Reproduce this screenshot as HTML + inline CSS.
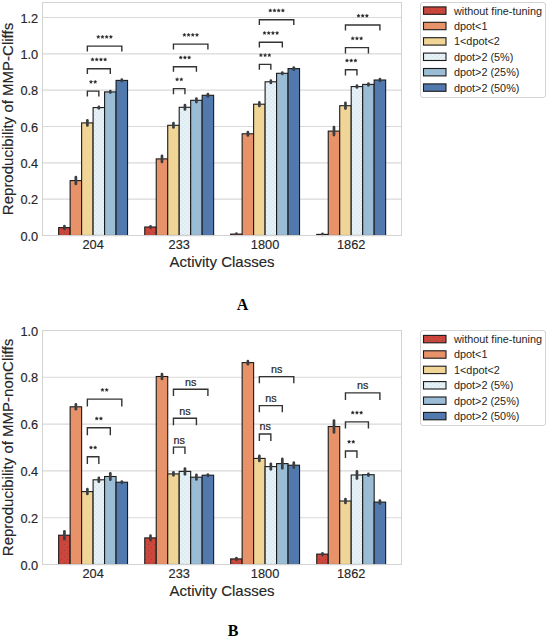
<!DOCTYPE html>
<html><head><meta charset="utf-8"><style>
html,body{margin:0;padding:0;background:#fff;}
svg{display:block;}
text{font-family:"Liberation Sans",sans-serif;fill:#262626;}
.tk{font-size:12.8px;stroke:#262626;stroke-width:0.15px;}
.lb{font-size:15px;stroke:#262626;stroke-width:0.15px;}
.lg{font-size:10.85px;}
.ns{font-size:10.8px;stroke:#262626;stroke-width:0.2px;}
.pn{font-family:"Liberation Serif",serif;font-weight:bold;font-size:16px;fill:#000;}
</style></head><body>
<svg width="548" height="638" viewBox="0 0 548 638">
<defs><pattern id="h0" patternUnits="userSpaceOnUse" width="6" height="6"><rect width="6" height="6" fill="#cd463b"/><circle cx="1.5" cy="1.5" r="0.5" fill="#7a4a40"/><circle cx="4.5" cy="4.5" r="0.5" fill="#7a4a40"/></pattern><pattern id="h3" patternUnits="userSpaceOnUse" width="4" height="4"><rect width="4" height="4" fill="#e6f2f7"/><circle cx="1" cy="1" r="0.55" fill="#c3d4da"/><circle cx="3" cy="3" r="0.55" fill="#c3d4da"/></pattern></defs>
<rect width="548" height="638" fill="#fff"/>
<rect x="42.5" y="2.5" width="359" height="233.0" fill="#fff" stroke="none"/>
<line x1="42" y1="235.50" x2="402" y2="235.50" stroke="#d9d9d9" stroke-width="1.1"/>
<text x="38.2" y="240.50" text-anchor="end" class="tk">0.0</text>
<line x1="42" y1="199.17" x2="402" y2="199.17" stroke="#d9d9d9" stroke-width="1.1"/>
<text x="38.2" y="204.17" text-anchor="end" class="tk">0.2</text>
<line x1="42" y1="162.83" x2="402" y2="162.83" stroke="#d9d9d9" stroke-width="1.1"/>
<text x="38.2" y="167.83" text-anchor="end" class="tk">0.4</text>
<line x1="42" y1="126.50" x2="402" y2="126.50" stroke="#d9d9d9" stroke-width="1.1"/>
<text x="38.2" y="131.50" text-anchor="end" class="tk">0.6</text>
<line x1="42" y1="90.16" x2="402" y2="90.16" stroke="#d9d9d9" stroke-width="1.1"/>
<text x="38.2" y="95.16" text-anchor="end" class="tk">0.8</text>
<line x1="42" y1="53.83" x2="402" y2="53.83" stroke="#d9d9d9" stroke-width="1.1"/>
<text x="38.2" y="58.83" text-anchor="end" class="tk">1.0</text>
<line x1="42" y1="17.50" x2="402" y2="17.50" stroke="#d9d9d9" stroke-width="1.1"/>
<text x="38.2" y="22.50" text-anchor="end" class="tk">1.2</text>
<rect x="58.66" y="227.60" width="11.48" height="7.90" fill="url(#h0)" stroke="#1a1a1a" stroke-width="1.1"/>
<rect x="70.14" y="180.60" width="11.48" height="54.90" fill="#e8926a" stroke="#1a1a1a" stroke-width="1.1"/>
<rect x="81.62" y="122.90" width="11.48" height="112.60" fill="#f0d596" stroke="#1a1a1a" stroke-width="1.1"/>
<rect x="93.10" y="107.60" width="11.48" height="127.90" fill="url(#h3)" stroke="#1a1a1a" stroke-width="1.1"/>
<rect x="104.58" y="91.90" width="11.48" height="143.60" fill="#9abdd5" stroke="#1a1a1a" stroke-width="1.1"/>
<rect x="116.06" y="80.40" width="11.48" height="155.10" fill="#5279ad" stroke="#1a1a1a" stroke-width="1.1"/>
<line x1="64.40" y1="226.15" x2="64.40" y2="229.05" stroke="#3a3d42" stroke-width="2.7" stroke-linecap="round"/>
<line x1="75.88" y1="177.20" x2="75.88" y2="184.00" stroke="#3a3d42" stroke-width="2.7" stroke-linecap="round"/>
<line x1="87.36" y1="120.30" x2="87.36" y2="125.50" stroke="#3a3d42" stroke-width="2.7" stroke-linecap="round"/>
<line x1="98.84" y1="106.90" x2="98.84" y2="108.30" stroke="#3a3d42" stroke-width="2.7" stroke-linecap="round"/>
<line x1="110.32" y1="91.20" x2="110.32" y2="92.60" stroke="#3a3d42" stroke-width="2.7" stroke-linecap="round"/>
<line x1="121.80" y1="79.70" x2="121.80" y2="81.10" stroke="#3a3d42" stroke-width="2.7" stroke-linecap="round"/>
<path d="M87.36 96.4 V91.1 H98.84 V96.4" fill="none" stroke="#333" stroke-width="1.4"/>
<polygon points="91.00,80.05 91.53,81.17 92.76,81.33 91.86,82.18 92.09,83.40 91.00,82.80 89.91,83.40 90.14,82.18 89.24,81.33 90.47,81.17" fill="#262626" stroke="#262626" stroke-width="0.3"/>
<polygon points="95.20,80.05 95.73,81.17 96.96,81.33 96.06,82.18 96.29,83.40 95.20,82.80 94.11,83.40 94.34,82.18 93.44,81.33 94.67,81.17" fill="#262626" stroke="#262626" stroke-width="0.3"/>
<path d="M87.36 74.0 V68.7 H110.32 V74.0" fill="none" stroke="#333" stroke-width="1.4"/>
<polygon points="92.54,57.65 93.07,58.77 94.30,58.93 93.40,59.78 93.63,61.00 92.54,60.40 91.45,61.00 91.68,59.78 90.78,58.93 92.01,58.77" fill="#262626" stroke="#262626" stroke-width="0.3"/>
<polygon points="96.74,57.65 97.27,58.77 98.50,58.93 97.60,59.78 97.83,61.00 96.74,60.40 95.65,61.00 95.88,59.78 94.98,58.93 96.21,58.77" fill="#262626" stroke="#262626" stroke-width="0.3"/>
<polygon points="100.94,57.65 101.47,58.77 102.70,58.93 101.80,59.78 102.03,61.00 100.94,60.40 99.85,61.00 100.08,59.78 99.18,58.93 100.41,58.77" fill="#262626" stroke="#262626" stroke-width="0.3"/>
<polygon points="105.14,57.65 105.67,58.77 106.90,58.93 106.00,59.78 106.23,61.00 105.14,60.40 104.05,61.00 104.28,59.78 103.38,58.93 104.61,58.77" fill="#262626" stroke="#262626" stroke-width="0.3"/>
<path d="M87.36 51.4 V46.1 H121.80 V51.4" fill="none" stroke="#333" stroke-width="1.4"/>
<polygon points="98.28,35.05 98.81,36.17 100.04,36.33 99.14,37.18 99.37,38.40 98.28,37.80 97.19,38.40 97.42,37.18 96.52,36.33 97.75,36.17" fill="#262626" stroke="#262626" stroke-width="0.3"/>
<polygon points="102.48,35.05 103.01,36.17 104.24,36.33 103.34,37.18 103.57,38.40 102.48,37.80 101.39,38.40 101.62,37.18 100.72,36.33 101.95,36.17" fill="#262626" stroke="#262626" stroke-width="0.3"/>
<polygon points="106.68,35.05 107.21,36.17 108.44,36.33 107.54,37.18 107.77,38.40 106.68,37.80 105.59,38.40 105.82,37.18 104.92,36.33 106.15,36.17" fill="#262626" stroke="#262626" stroke-width="0.3"/>
<polygon points="110.88,35.05 111.41,36.17 112.64,36.33 111.74,37.18 111.97,38.40 110.88,37.80 109.79,38.40 110.02,37.18 109.12,36.33 110.35,36.17" fill="#262626" stroke="#262626" stroke-width="0.3"/>
<text x="93.10" y="248.70" text-anchor="middle" class="tk">204</text>
<rect x="144.76" y="227.00" width="11.48" height="8.50" fill="url(#h0)" stroke="#1a1a1a" stroke-width="1.1"/>
<rect x="156.24" y="158.90" width="11.48" height="76.60" fill="#e8926a" stroke="#1a1a1a" stroke-width="1.1"/>
<rect x="167.72" y="125.30" width="11.48" height="110.20" fill="#f0d596" stroke="#1a1a1a" stroke-width="1.1"/>
<rect x="179.20" y="107.30" width="11.48" height="128.20" fill="url(#h3)" stroke="#1a1a1a" stroke-width="1.1"/>
<rect x="190.68" y="100.30" width="11.48" height="135.20" fill="#9abdd5" stroke="#1a1a1a" stroke-width="1.1"/>
<rect x="202.16" y="95.30" width="11.48" height="140.20" fill="#5279ad" stroke="#1a1a1a" stroke-width="1.1"/>
<line x1="150.50" y1="226.30" x2="150.50" y2="227.70" stroke="#3a3d42" stroke-width="2.7" stroke-linecap="round"/>
<line x1="161.98" y1="155.85" x2="161.98" y2="161.95" stroke="#3a3d42" stroke-width="2.7" stroke-linecap="round"/>
<line x1="173.46" y1="123.10" x2="173.46" y2="127.50" stroke="#3a3d42" stroke-width="2.7" stroke-linecap="round"/>
<line x1="184.94" y1="105.10" x2="184.94" y2="109.50" stroke="#3a3d42" stroke-width="2.7" stroke-linecap="round"/>
<line x1="196.42" y1="98.50" x2="196.42" y2="102.10" stroke="#3a3d42" stroke-width="2.7" stroke-linecap="round"/>
<line x1="207.90" y1="94.10" x2="207.90" y2="96.50" stroke="#3a3d42" stroke-width="2.7" stroke-linecap="round"/>
<path d="M173.46 94.2 V88.6 H184.94 V94.2" fill="none" stroke="#333" stroke-width="1.4"/>
<polygon points="177.10,77.55 177.63,78.67 178.86,78.83 177.96,79.68 178.19,80.90 177.10,80.30 176.01,80.90 176.24,79.68 175.34,78.83 176.57,78.67" fill="#262626" stroke="#262626" stroke-width="0.3"/>
<polygon points="181.30,77.55 181.83,78.67 183.06,78.83 182.16,79.68 182.39,80.90 181.30,80.30 180.21,80.90 180.44,79.68 179.54,78.83 180.77,78.67" fill="#262626" stroke="#262626" stroke-width="0.3"/>
<path d="M173.46 71.7 V66.8 H196.42 V71.7" fill="none" stroke="#333" stroke-width="1.4"/>
<polygon points="180.74,55.75 181.27,56.87 182.50,57.03 181.60,57.88 181.83,59.10 180.74,58.50 179.65,59.10 179.88,57.88 178.98,57.03 180.21,56.87" fill="#262626" stroke="#262626" stroke-width="0.3"/>
<polygon points="184.94,55.75 185.47,56.87 186.70,57.03 185.80,57.88 186.03,59.10 184.94,58.50 183.85,59.10 184.08,57.88 183.18,57.03 184.41,56.87" fill="#262626" stroke="#262626" stroke-width="0.3"/>
<polygon points="189.14,55.75 189.67,56.87 190.90,57.03 190.00,57.88 190.23,59.10 189.14,58.50 188.05,59.10 188.28,57.88 187.38,57.03 188.61,56.87" fill="#262626" stroke="#262626" stroke-width="0.3"/>
<path d="M173.46 49.6 V44.1 H207.90 V49.6" fill="none" stroke="#333" stroke-width="1.4"/>
<polygon points="184.38,33.05 184.91,34.17 186.14,34.33 185.24,35.18 185.47,36.40 184.38,35.80 183.29,36.40 183.52,35.18 182.62,34.33 183.85,34.17" fill="#262626" stroke="#262626" stroke-width="0.3"/>
<polygon points="188.58,33.05 189.11,34.17 190.34,34.33 189.44,35.18 189.67,36.40 188.58,35.80 187.49,36.40 187.72,35.18 186.82,34.33 188.05,34.17" fill="#262626" stroke="#262626" stroke-width="0.3"/>
<polygon points="192.78,33.05 193.31,34.17 194.54,34.33 193.64,35.18 193.87,36.40 192.78,35.80 191.69,36.40 191.92,35.18 191.02,34.33 192.25,34.17" fill="#262626" stroke="#262626" stroke-width="0.3"/>
<polygon points="196.98,33.05 197.51,34.17 198.74,34.33 197.84,35.18 198.07,36.40 196.98,35.80 195.89,36.40 196.12,35.18 195.22,34.33 196.45,34.17" fill="#262626" stroke="#262626" stroke-width="0.3"/>
<text x="179.20" y="248.70" text-anchor="middle" class="tk">233</text>
<rect x="230.66" y="234.10" width="11.48" height="1.40" fill="url(#h0)" stroke="#1a1a1a" stroke-width="1.1"/>
<rect x="242.14" y="133.80" width="11.48" height="101.70" fill="#e8926a" stroke="#1a1a1a" stroke-width="1.1"/>
<rect x="253.62" y="104.20" width="11.48" height="131.30" fill="#f0d596" stroke="#1a1a1a" stroke-width="1.1"/>
<rect x="265.10" y="81.80" width="11.48" height="153.70" fill="url(#h3)" stroke="#1a1a1a" stroke-width="1.1"/>
<rect x="276.58" y="73.30" width="11.48" height="162.20" fill="#9abdd5" stroke="#1a1a1a" stroke-width="1.1"/>
<rect x="288.06" y="68.60" width="11.48" height="166.90" fill="#5279ad" stroke="#1a1a1a" stroke-width="1.1"/>
<line x1="236.40" y1="233.50" x2="236.40" y2="234.70" stroke="#3a3d42" stroke-width="2.7" stroke-linecap="round"/>
<line x1="247.88" y1="132.15" x2="247.88" y2="135.45" stroke="#3a3d42" stroke-width="2.7" stroke-linecap="round"/>
<line x1="259.36" y1="102.40" x2="259.36" y2="106.00" stroke="#3a3d42" stroke-width="2.7" stroke-linecap="round"/>
<line x1="270.84" y1="80.70" x2="270.84" y2="82.90" stroke="#3a3d42" stroke-width="2.7" stroke-linecap="round"/>
<line x1="282.32" y1="72.60" x2="282.32" y2="74.00" stroke="#3a3d42" stroke-width="2.7" stroke-linecap="round"/>
<line x1="293.80" y1="67.50" x2="293.80" y2="69.70" stroke="#3a3d42" stroke-width="2.7" stroke-linecap="round"/>
<path d="M259.36 69.8 V64.4 H270.84 V69.8" fill="none" stroke="#333" stroke-width="1.4"/>
<polygon points="260.90,53.35 261.43,54.47 262.66,54.63 261.76,55.48 261.99,56.70 260.90,56.10 259.81,56.70 260.04,55.48 259.14,54.63 260.37,54.47" fill="#262626" stroke="#262626" stroke-width="0.3"/>
<polygon points="265.10,53.35 265.63,54.47 266.86,54.63 265.96,55.48 266.19,56.70 265.10,56.10 264.01,56.70 264.24,55.48 263.34,54.63 264.57,54.47" fill="#262626" stroke="#262626" stroke-width="0.3"/>
<polygon points="269.30,53.35 269.83,54.47 271.06,54.63 270.16,55.48 270.39,56.70 269.30,56.10 268.21,56.70 268.44,55.48 267.54,54.63 268.77,54.47" fill="#262626" stroke="#262626" stroke-width="0.3"/>
<path d="M259.36 47.6 V42.2 H282.32 V47.6" fill="none" stroke="#333" stroke-width="1.4"/>
<polygon points="264.54,31.15 265.07,32.27 266.30,32.43 265.40,33.28 265.63,34.50 264.54,33.90 263.45,34.50 263.68,33.28 262.78,32.43 264.01,32.27" fill="#262626" stroke="#262626" stroke-width="0.3"/>
<polygon points="268.74,31.15 269.27,32.27 270.50,32.43 269.60,33.28 269.83,34.50 268.74,33.90 267.65,34.50 267.88,33.28 266.98,32.43 268.21,32.27" fill="#262626" stroke="#262626" stroke-width="0.3"/>
<polygon points="272.94,31.15 273.47,32.27 274.70,32.43 273.80,33.28 274.03,34.50 272.94,33.90 271.85,34.50 272.08,33.28 271.18,32.43 272.41,32.27" fill="#262626" stroke="#262626" stroke-width="0.3"/>
<polygon points="277.14,31.15 277.67,32.27 278.90,32.43 278.00,33.28 278.23,34.50 277.14,33.90 276.05,34.50 276.28,33.28 275.38,32.43 276.61,32.27" fill="#262626" stroke="#262626" stroke-width="0.3"/>
<path d="M259.36 25.0 V19.7 H293.80 V25.0" fill="none" stroke="#333" stroke-width="1.4"/>
<polygon points="270.28,8.65 270.81,9.77 272.04,9.93 271.14,10.78 271.37,12.00 270.28,11.40 269.19,12.00 269.42,10.78 268.52,9.93 269.75,9.77" fill="#262626" stroke="#262626" stroke-width="0.3"/>
<polygon points="274.48,8.65 275.01,9.77 276.24,9.93 275.34,10.78 275.57,12.00 274.48,11.40 273.39,12.00 273.62,10.78 272.72,9.93 273.95,9.77" fill="#262626" stroke="#262626" stroke-width="0.3"/>
<polygon points="278.68,8.65 279.21,9.77 280.44,9.93 279.54,10.78 279.77,12.00 278.68,11.40 277.59,12.00 277.82,10.78 276.92,9.93 278.15,9.77" fill="#262626" stroke="#262626" stroke-width="0.3"/>
<polygon points="282.88,8.65 283.41,9.77 284.64,9.93 283.74,10.78 283.97,12.00 282.88,11.40 281.79,12.00 282.02,10.78 281.12,9.93 282.35,9.77" fill="#262626" stroke="#262626" stroke-width="0.3"/>
<text x="265.10" y="248.70" text-anchor="middle" class="tk">1800</text>
<rect x="316.76" y="234.40" width="11.48" height="1.10" fill="url(#h0)" stroke="#1a1a1a" stroke-width="1.1"/>
<rect x="328.24" y="131.10" width="11.48" height="104.40" fill="#e8926a" stroke="#1a1a1a" stroke-width="1.1"/>
<rect x="339.72" y="105.70" width="11.48" height="129.80" fill="#f0d596" stroke="#1a1a1a" stroke-width="1.1"/>
<rect x="351.20" y="86.60" width="11.48" height="148.90" fill="url(#h3)" stroke="#1a1a1a" stroke-width="1.1"/>
<rect x="362.68" y="84.40" width="11.48" height="151.10" fill="#9abdd5" stroke="#1a1a1a" stroke-width="1.1"/>
<rect x="374.16" y="80.00" width="11.48" height="155.50" fill="#5279ad" stroke="#1a1a1a" stroke-width="1.1"/>
<line x1="322.50" y1="233.80" x2="322.50" y2="235.00" stroke="#3a3d42" stroke-width="2.7" stroke-linecap="round"/>
<line x1="333.98" y1="127.10" x2="333.98" y2="135.10" stroke="#3a3d42" stroke-width="2.7" stroke-linecap="round"/>
<line x1="345.46" y1="102.80" x2="345.46" y2="108.60" stroke="#3a3d42" stroke-width="2.7" stroke-linecap="round"/>
<line x1="356.94" y1="85.70" x2="356.94" y2="87.50" stroke="#3a3d42" stroke-width="2.7" stroke-linecap="round"/>
<line x1="368.42" y1="83.50" x2="368.42" y2="85.30" stroke="#3a3d42" stroke-width="2.7" stroke-linecap="round"/>
<line x1="379.90" y1="79.10" x2="379.90" y2="80.90" stroke="#3a3d42" stroke-width="2.7" stroke-linecap="round"/>
<path d="M345.46 75.5 V69.8 H356.94 V75.5" fill="none" stroke="#333" stroke-width="1.4"/>
<polygon points="347.00,58.75 347.53,59.87 348.76,60.03 347.86,60.88 348.09,62.10 347.00,61.50 345.91,62.10 346.14,60.88 345.24,60.03 346.47,59.87" fill="#262626" stroke="#262626" stroke-width="0.3"/>
<polygon points="351.20,58.75 351.73,59.87 352.96,60.03 352.06,60.88 352.29,62.10 351.20,61.50 350.11,62.10 350.34,60.88 349.44,60.03 350.67,59.87" fill="#262626" stroke="#262626" stroke-width="0.3"/>
<polygon points="355.40,58.75 355.93,59.87 357.16,60.03 356.26,60.88 356.49,62.10 355.40,61.50 354.31,62.10 354.54,60.88 353.64,60.03 354.87,59.87" fill="#262626" stroke="#262626" stroke-width="0.3"/>
<path d="M345.46 53.4 V47.6 H368.42 V53.4" fill="none" stroke="#333" stroke-width="1.4"/>
<polygon points="352.74,36.55 353.27,37.67 354.50,37.83 353.60,38.68 353.83,39.90 352.74,39.30 351.65,39.90 351.88,38.68 350.98,37.83 352.21,37.67" fill="#262626" stroke="#262626" stroke-width="0.3"/>
<polygon points="356.94,36.55 357.47,37.67 358.70,37.83 357.80,38.68 358.03,39.90 356.94,39.30 355.85,39.90 356.08,38.68 355.18,37.83 356.41,37.67" fill="#262626" stroke="#262626" stroke-width="0.3"/>
<polygon points="361.14,36.55 361.67,37.67 362.90,37.83 362.00,38.68 362.23,39.90 361.14,39.30 360.05,39.90 360.28,38.68 359.38,37.83 360.61,37.67" fill="#262626" stroke="#262626" stroke-width="0.3"/>
<path d="M345.46 30.4 V25.0 H379.90 V30.4" fill="none" stroke="#333" stroke-width="1.4"/>
<polygon points="358.48,13.95 359.01,15.07 360.24,15.23 359.34,16.08 359.57,17.30 358.48,16.70 357.39,17.30 357.62,16.08 356.72,15.23 357.95,15.07" fill="#262626" stroke="#262626" stroke-width="0.3"/>
<polygon points="362.68,13.95 363.21,15.07 364.44,15.23 363.54,16.08 363.77,17.30 362.68,16.70 361.59,17.30 361.82,16.08 360.92,15.23 362.15,15.07" fill="#262626" stroke="#262626" stroke-width="0.3"/>
<polygon points="366.88,13.95 367.41,15.07 368.64,15.23 367.74,16.08 367.97,17.30 366.88,16.70 365.79,17.30 366.02,16.08 365.12,15.23 366.35,15.07" fill="#262626" stroke="#262626" stroke-width="0.3"/>
<text x="351.20" y="248.70" text-anchor="middle" class="tk">1862</text>
<rect x="42.5" y="2.5" width="359" height="233.0" fill="none" stroke="#d3d3d3" stroke-width="1"/>
<text x="222" y="266.60" text-anchor="middle" class="lb">Activity Classes</text>
<text transform="translate(12.9 119.00) rotate(-90)" text-anchor="middle" class="lb">Reproducibility of MMP-Cliffs</text>
<text x="242.6" y="310.4" text-anchor="middle" class="pn">A</text>
<rect x="420.5" y="2.5" width="125" height="95" rx="2.5" fill="#fff" stroke="#d3d3d3" stroke-width="1"/>
<rect x="423.5" y="6.90" width="22.5" height="7.4" fill="url(#h0)" stroke="#1a1a1a" stroke-width="1.1"/>
<text x="454" y="14.50" class="lg">without fine-tuning</text>
<rect x="423.5" y="22.30" width="22.5" height="7.4" fill="#e8926a" stroke="#1a1a1a" stroke-width="1.1"/>
<text x="454" y="29.90" class="lg">dpot&lt;1</text>
<rect x="423.5" y="37.70" width="22.5" height="7.4" fill="#f0d596" stroke="#1a1a1a" stroke-width="1.1"/>
<text x="454" y="45.30" class="lg">1&lt;dpot&lt;2</text>
<rect x="423.5" y="53.10" width="22.5" height="7.4" fill="url(#h3)" stroke="#1a1a1a" stroke-width="1.1"/>
<text x="454" y="60.70" class="lg">dpot&gt;2 (5%)</text>
<rect x="423.5" y="68.50" width="22.5" height="7.4" fill="#9abdd5" stroke="#1a1a1a" stroke-width="1.1"/>
<text x="454" y="76.10" class="lg">dpot&gt;2 (25%)</text>
<rect x="423.5" y="83.90" width="22.5" height="7.4" fill="#5279ad" stroke="#1a1a1a" stroke-width="1.1"/>
<text x="454" y="91.50" class="lg">dpot&gt;2 (50%)</text>
<rect x="42.5" y="330.5" width="359" height="234.0" fill="#fff" stroke="none"/>
<line x1="42" y1="564.50" x2="402" y2="564.50" stroke="#d9d9d9" stroke-width="1.1"/>
<text x="38.2" y="569.50" text-anchor="end" class="tk">0.0</text>
<line x1="42" y1="517.70" x2="402" y2="517.70" stroke="#d9d9d9" stroke-width="1.1"/>
<text x="38.2" y="522.70" text-anchor="end" class="tk">0.2</text>
<line x1="42" y1="470.90" x2="402" y2="470.90" stroke="#d9d9d9" stroke-width="1.1"/>
<text x="38.2" y="475.90" text-anchor="end" class="tk">0.4</text>
<line x1="42" y1="424.10" x2="402" y2="424.10" stroke="#d9d9d9" stroke-width="1.1"/>
<text x="38.2" y="429.10" text-anchor="end" class="tk">0.6</text>
<line x1="42" y1="377.30" x2="402" y2="377.30" stroke="#d9d9d9" stroke-width="1.1"/>
<text x="38.2" y="382.30" text-anchor="end" class="tk">0.8</text>
<line x1="42" y1="330.50" x2="402" y2="330.50" stroke="#d9d9d9" stroke-width="1.1"/>
<text x="38.2" y="335.50" text-anchor="end" class="tk">1.0</text>
<rect x="58.66" y="535.20" width="11.48" height="29.30" fill="url(#h0)" stroke="#1a1a1a" stroke-width="1.1"/>
<rect x="70.14" y="406.80" width="11.48" height="157.70" fill="#e8926a" stroke="#1a1a1a" stroke-width="1.1"/>
<rect x="81.62" y="491.60" width="11.48" height="72.90" fill="#f0d596" stroke="#1a1a1a" stroke-width="1.1"/>
<rect x="93.10" y="479.80" width="11.48" height="84.70" fill="url(#h3)" stroke="#1a1a1a" stroke-width="1.1"/>
<rect x="104.58" y="476.50" width="11.48" height="88.00" fill="#9abdd5" stroke="#1a1a1a" stroke-width="1.1"/>
<rect x="116.06" y="482.20" width="11.48" height="82.30" fill="#5279ad" stroke="#1a1a1a" stroke-width="1.1"/>
<line x1="64.40" y1="531.25" x2="64.40" y2="539.15" stroke="#3a3d42" stroke-width="2.7" stroke-linecap="round"/>
<line x1="75.88" y1="404.40" x2="75.88" y2="409.20" stroke="#3a3d42" stroke-width="2.7" stroke-linecap="round"/>
<line x1="87.36" y1="489.20" x2="87.36" y2="494.00" stroke="#3a3d42" stroke-width="2.7" stroke-linecap="round"/>
<line x1="98.84" y1="477.95" x2="98.84" y2="481.65" stroke="#3a3d42" stroke-width="2.7" stroke-linecap="round"/>
<line x1="110.32" y1="473.25" x2="110.32" y2="479.75" stroke="#3a3d42" stroke-width="2.7" stroke-linecap="round"/>
<line x1="121.80" y1="481.60" x2="121.80" y2="482.80" stroke="#3a3d42" stroke-width="2.7" stroke-linecap="round"/>
<path d="M87.36 464.1 V456.8 H98.84 V464.1" fill="none" stroke="#333" stroke-width="1.4"/>
<polygon points="91.00,445.75 91.53,446.87 92.76,447.03 91.86,447.88 92.09,449.10 91.00,448.50 89.91,449.10 90.14,447.88 89.24,447.03 90.47,446.87" fill="#262626" stroke="#262626" stroke-width="0.3"/>
<polygon points="95.20,445.75 95.73,446.87 96.96,447.03 96.06,447.88 96.29,449.10 95.20,448.50 94.11,449.10 94.34,447.88 93.44,447.03 94.67,446.87" fill="#262626" stroke="#262626" stroke-width="0.3"/>
<path d="M87.36 435.2 V427.8 H110.32 V435.2" fill="none" stroke="#333" stroke-width="1.4"/>
<polygon points="96.74,416.75 97.27,417.87 98.50,418.03 97.60,418.88 97.83,420.10 96.74,419.50 95.65,420.10 95.88,418.88 94.98,418.03 96.21,417.87" fill="#262626" stroke="#262626" stroke-width="0.3"/>
<polygon points="100.94,416.75 101.47,417.87 102.70,418.03 101.80,418.88 102.03,420.10 100.94,419.50 99.85,420.10 100.08,418.88 99.18,418.03 100.41,417.87" fill="#262626" stroke="#262626" stroke-width="0.3"/>
<path d="M87.36 406.5 V399.1 H121.80 V406.5" fill="none" stroke="#333" stroke-width="1.4"/>
<polygon points="102.48,388.05 103.01,389.17 104.24,389.33 103.34,390.18 103.57,391.40 102.48,390.80 101.39,391.40 101.62,390.18 100.72,389.33 101.95,389.17" fill="#262626" stroke="#262626" stroke-width="0.3"/>
<polygon points="106.68,388.05 107.21,389.17 108.44,389.33 107.54,390.18 107.77,391.40 106.68,390.80 105.59,391.40 105.82,390.18 104.92,389.33 106.15,389.17" fill="#262626" stroke="#262626" stroke-width="0.3"/>
<text x="93.10" y="577.70" text-anchor="middle" class="tk">204</text>
<rect x="144.76" y="537.90" width="11.48" height="26.60" fill="url(#h0)" stroke="#1a1a1a" stroke-width="1.1"/>
<rect x="156.24" y="376.50" width="11.48" height="188.00" fill="#e8926a" stroke="#1a1a1a" stroke-width="1.1"/>
<rect x="167.72" y="473.90" width="11.48" height="90.60" fill="#f0d596" stroke="#1a1a1a" stroke-width="1.1"/>
<rect x="179.20" y="471.40" width="11.48" height="93.10" fill="url(#h3)" stroke="#1a1a1a" stroke-width="1.1"/>
<rect x="190.68" y="477.20" width="11.48" height="87.30" fill="#9abdd5" stroke="#1a1a1a" stroke-width="1.1"/>
<rect x="202.16" y="475.20" width="11.48" height="89.30" fill="#5279ad" stroke="#1a1a1a" stroke-width="1.1"/>
<line x1="150.50" y1="535.70" x2="150.50" y2="540.10" stroke="#3a3d42" stroke-width="2.7" stroke-linecap="round"/>
<line x1="161.98" y1="374.05" x2="161.98" y2="378.95" stroke="#3a3d42" stroke-width="2.7" stroke-linecap="round"/>
<line x1="173.46" y1="472.45" x2="173.46" y2="475.35" stroke="#3a3d42" stroke-width="2.7" stroke-linecap="round"/>
<line x1="184.94" y1="468.50" x2="184.94" y2="474.30" stroke="#3a3d42" stroke-width="2.7" stroke-linecap="round"/>
<line x1="196.42" y1="474.90" x2="196.42" y2="479.50" stroke="#3a3d42" stroke-width="2.7" stroke-linecap="round"/>
<line x1="207.90" y1="474.50" x2="207.90" y2="475.90" stroke="#3a3d42" stroke-width="2.7" stroke-linecap="round"/>
<path d="M173.46 454.0 V447.1 H184.94 V454.0" fill="none" stroke="#333" stroke-width="1.4"/>
<text x="179.20" y="443.50" text-anchor="middle" class="ns">ns</text>
<path d="M173.46 425.2 V418.2 H196.42 V425.2" fill="none" stroke="#333" stroke-width="1.4"/>
<text x="184.94" y="414.60" text-anchor="middle" class="ns">ns</text>
<path d="M173.46 396.0 V389.2 H207.90 V396.0" fill="none" stroke="#333" stroke-width="1.4"/>
<text x="190.68" y="385.60" text-anchor="middle" class="ns">ns</text>
<text x="179.20" y="577.70" text-anchor="middle" class="tk">233</text>
<rect x="230.66" y="558.90" width="11.48" height="5.60" fill="url(#h0)" stroke="#1a1a1a" stroke-width="1.1"/>
<rect x="242.14" y="362.60" width="11.48" height="201.90" fill="#e8926a" stroke="#1a1a1a" stroke-width="1.1"/>
<rect x="253.62" y="458.40" width="11.48" height="106.10" fill="#f0d596" stroke="#1a1a1a" stroke-width="1.1"/>
<rect x="265.10" y="466.60" width="11.48" height="97.90" fill="url(#h3)" stroke="#1a1a1a" stroke-width="1.1"/>
<rect x="276.58" y="463.60" width="11.48" height="100.90" fill="#9abdd5" stroke="#1a1a1a" stroke-width="1.1"/>
<rect x="288.06" y="465.20" width="11.48" height="99.30" fill="#5279ad" stroke="#1a1a1a" stroke-width="1.1"/>
<line x1="236.40" y1="558.00" x2="236.40" y2="559.80" stroke="#3a3d42" stroke-width="2.7" stroke-linecap="round"/>
<line x1="247.88" y1="361.00" x2="247.88" y2="364.20" stroke="#3a3d42" stroke-width="2.7" stroke-linecap="round"/>
<line x1="259.36" y1="455.80" x2="259.36" y2="461.00" stroke="#3a3d42" stroke-width="2.7" stroke-linecap="round"/>
<line x1="270.84" y1="463.85" x2="270.84" y2="469.35" stroke="#3a3d42" stroke-width="2.7" stroke-linecap="round"/>
<line x1="282.32" y1="458.90" x2="282.32" y2="468.30" stroke="#3a3d42" stroke-width="2.7" stroke-linecap="round"/>
<line x1="293.80" y1="462.70" x2="293.80" y2="467.70" stroke="#3a3d42" stroke-width="2.7" stroke-linecap="round"/>
<path d="M259.36 441.1 V434.0 H270.84 V441.1" fill="none" stroke="#333" stroke-width="1.4"/>
<text x="265.10" y="430.40" text-anchor="middle" class="ns">ns</text>
<path d="M259.36 412.3 V405.6 H282.32 V412.3" fill="none" stroke="#333" stroke-width="1.4"/>
<text x="270.84" y="402.00" text-anchor="middle" class="ns">ns</text>
<path d="M259.36 383.3 V376.6 H293.80 V383.3" fill="none" stroke="#333" stroke-width="1.4"/>
<text x="276.58" y="373.00" text-anchor="middle" class="ns">ns</text>
<text x="265.10" y="577.70" text-anchor="middle" class="tk">1800</text>
<rect x="316.76" y="554.10" width="11.48" height="10.40" fill="url(#h0)" stroke="#1a1a1a" stroke-width="1.1"/>
<rect x="328.24" y="426.50" width="11.48" height="138.00" fill="#e8926a" stroke="#1a1a1a" stroke-width="1.1"/>
<rect x="339.72" y="501.00" width="11.48" height="63.50" fill="#f0d596" stroke="#1a1a1a" stroke-width="1.1"/>
<rect x="351.20" y="475.00" width="11.48" height="89.50" fill="url(#h3)" stroke="#1a1a1a" stroke-width="1.1"/>
<rect x="362.68" y="474.70" width="11.48" height="89.80" fill="#9abdd5" stroke="#1a1a1a" stroke-width="1.1"/>
<rect x="374.16" y="502.10" width="11.48" height="62.40" fill="#5279ad" stroke="#1a1a1a" stroke-width="1.1"/>
<line x1="322.50" y1="553.40" x2="322.50" y2="554.80" stroke="#3a3d42" stroke-width="2.7" stroke-linecap="round"/>
<line x1="333.98" y1="420.60" x2="333.98" y2="432.40" stroke="#3a3d42" stroke-width="2.7" stroke-linecap="round"/>
<line x1="345.46" y1="499.05" x2="345.46" y2="502.95" stroke="#3a3d42" stroke-width="2.7" stroke-linecap="round"/>
<line x1="356.94" y1="471.40" x2="356.94" y2="478.60" stroke="#3a3d42" stroke-width="2.7" stroke-linecap="round"/>
<line x1="368.42" y1="473.80" x2="368.42" y2="475.60" stroke="#3a3d42" stroke-width="2.7" stroke-linecap="round"/>
<line x1="379.90" y1="500.60" x2="379.90" y2="503.60" stroke="#3a3d42" stroke-width="2.7" stroke-linecap="round"/>
<path d="M345.46 457.9 V451.0 H356.94 V457.9" fill="none" stroke="#333" stroke-width="1.4"/>
<polygon points="349.10,439.95 349.63,441.07 350.86,441.23 349.96,442.08 350.19,443.30 349.10,442.70 348.01,443.30 348.24,442.08 347.34,441.23 348.57,441.07" fill="#262626" stroke="#262626" stroke-width="0.3"/>
<polygon points="353.30,439.95 353.83,441.07 355.06,441.23 354.16,442.08 354.39,443.30 353.30,442.70 352.21,443.30 352.44,442.08 351.54,441.23 352.77,441.07" fill="#262626" stroke="#262626" stroke-width="0.3"/>
<path d="M345.46 428.5 V421.9 H368.42 V428.5" fill="none" stroke="#333" stroke-width="1.4"/>
<polygon points="352.74,410.85 353.27,411.97 354.50,412.13 353.60,412.98 353.83,414.20 352.74,413.60 351.65,414.20 351.88,412.98 350.98,412.13 352.21,411.97" fill="#262626" stroke="#262626" stroke-width="0.3"/>
<polygon points="356.94,410.85 357.47,411.97 358.70,412.13 357.80,412.98 358.03,414.20 356.94,413.60 355.85,414.20 356.08,412.98 355.18,412.13 356.41,411.97" fill="#262626" stroke="#262626" stroke-width="0.3"/>
<polygon points="361.14,410.85 361.67,411.97 362.90,412.13 362.00,412.98 362.23,414.20 361.14,413.60 360.05,414.20 360.28,412.98 359.38,412.13 360.61,411.97" fill="#262626" stroke="#262626" stroke-width="0.3"/>
<path d="M345.46 400.0 V392.9 H379.90 V400.0" fill="none" stroke="#333" stroke-width="1.4"/>
<text x="362.68" y="389.30" text-anchor="middle" class="ns">ns</text>
<text x="351.20" y="577.70" text-anchor="middle" class="tk">1862</text>
<rect x="42.5" y="330.5" width="359" height="234.0" fill="none" stroke="#d3d3d3" stroke-width="1"/>
<text x="222" y="595.60" text-anchor="middle" class="lb">Activity Classes</text>
<text transform="translate(12.9 447.50) rotate(-90)" text-anchor="middle" class="lb">Reproducibility of MMP-nonCliffs</text>
<text x="233.1" y="636.4" text-anchor="middle" class="pn">B</text>
<rect x="420.5" y="330.5" width="125" height="95" rx="2.5" fill="#fff" stroke="#d3d3d3" stroke-width="1"/>
<rect x="423.5" y="335.40" width="22.5" height="7.4" fill="url(#h0)" stroke="#1a1a1a" stroke-width="1.1"/>
<text x="454" y="343.00" class="lg">without fine-tuning</text>
<rect x="423.5" y="350.80" width="22.5" height="7.4" fill="#e8926a" stroke="#1a1a1a" stroke-width="1.1"/>
<text x="454" y="358.40" class="lg">dpot&lt;1</text>
<rect x="423.5" y="366.20" width="22.5" height="7.4" fill="#f0d596" stroke="#1a1a1a" stroke-width="1.1"/>
<text x="454" y="373.80" class="lg">1&lt;dpot&lt;2</text>
<rect x="423.5" y="381.60" width="22.5" height="7.4" fill="url(#h3)" stroke="#1a1a1a" stroke-width="1.1"/>
<text x="454" y="389.20" class="lg">dpot&gt;2 (5%)</text>
<rect x="423.5" y="397.00" width="22.5" height="7.4" fill="#9abdd5" stroke="#1a1a1a" stroke-width="1.1"/>
<text x="454" y="404.60" class="lg">dpot&gt;2 (25%)</text>
<rect x="423.5" y="412.40" width="22.5" height="7.4" fill="#5279ad" stroke="#1a1a1a" stroke-width="1.1"/>
<text x="454" y="420.00" class="lg">dpot&gt;2 (50%)</text>
</svg></body></html>
